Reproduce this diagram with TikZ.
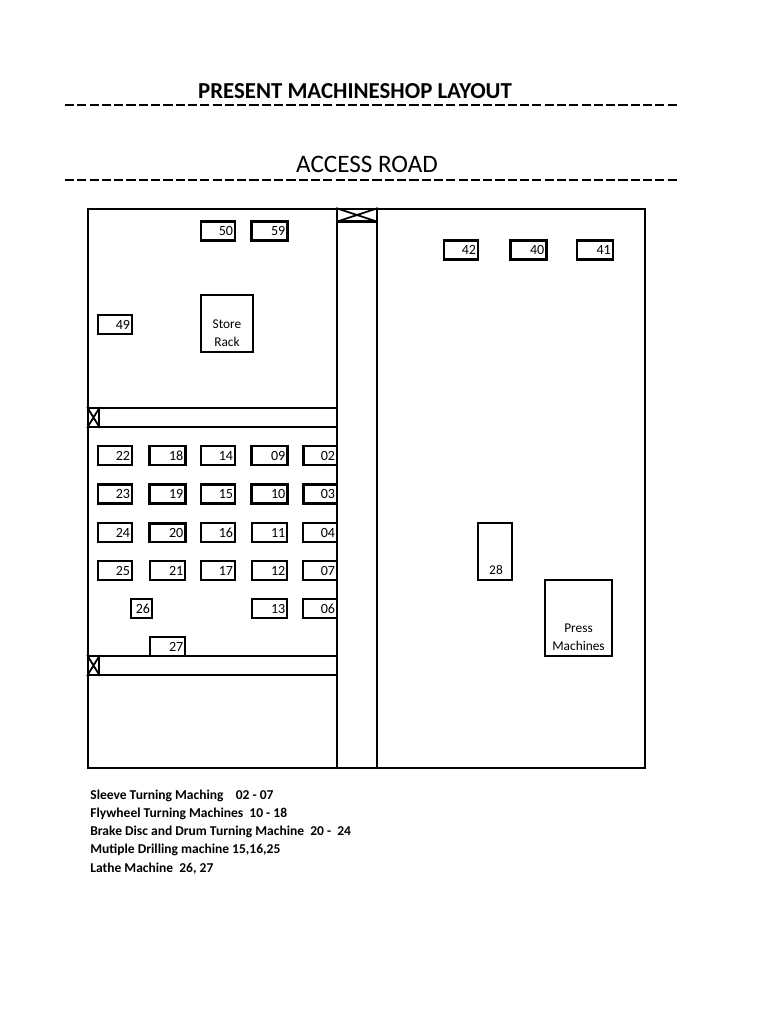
\documentclass[tikz,border=0pt]{standalone}
\usepackage{fontspec}
\setmainfont{Carlito}
\usetikzlibrary{positioning, calc}
\tikzset{
  machine/.style={draw, line width=1.2pt, inner xsep=.04cm, inner ysep=0pt, text width=.6cm, align=right, minimum height=.38cm, font=\fontsize{8}{8}\selectfont},
  machinebold/.style={machine, line width=1.7pt},
  wide/.style={text width=.63cm},
  tallbox/.style={draw, line width=1pt},
  boxlabel/.style={align=center, inner sep=0pt, font=\fontsize{7.6}{10.2}\selectfont},
  door/.style={draw, line width=1pt, inner sep=0pt},
  wall/.style={draw, line width=1.1pt},
}
\begin{document}
\begin{tikzpicture}[x=.02cm, y=-.02cm]
  \useasboundingbox (0,0) rectangle (768,1024);
  % headings
  \node[font=\bfseries\fontsize{13}{15}\selectfont] (title) at (355,91.5) {PRESENT MACHINESHOP LAYOUT};
  \node[font=\fontsize{14.3}{16}\selectfont] (road) at (367,164) {ACCESS ROAD};
  \coordinate (aux1) at (65,105);
  \coordinate (aux2) at (678,105);
  \coordinate (aux3) at (65,180);
  \coordinate (aux4) at (678,180);
  \draw[line width=1.7pt, dash pattern=on 5.2pt off 1.8pt] (aux1) -- (aux2);
  \draw[line width=1pt, dash pattern=on 5.2pt off 1.8pt] (aux3) -- (aux4);
  % walls
  \draw[wall] (88,209) rectangle (645,768);
  \draw[wall] (88,209) rectangle (337,408);
  \draw[wall] (88,427) rectangle (337,656);
  \draw[wall] (88,675) rectangle (337,768);
  \draw[wall] (337,209) -- (337,768);
  \draw[wall] (377,209) -- (377,768);
  % doors
  \node[door, minimum width=.8cm, minimum height=.24cm] (door1) at (357,215) {};
  \node[door, minimum width=.22cm, minimum height=.38cm] (door2) at (93.5,417.5) {};
  \node[door, minimum width=.22cm, minimum height=.38cm] (door3) at (93.5,665.5) {};
  \draw[line width=1pt] (door1.north west) -- (door1.south east) (door1.north east) -- (door1.south west);
  \draw[line width=1.8pt] (door1.south west) -- (door1.south east);
  \draw[line width=1pt] (door2.north west) -- (door2.south east) (door2.north east) -- (door2.south west);
  \draw[line width=1pt] (door3.north west) -- (door3.south east) (door3.north east) -- (door3.south west);
  % store room
  \node[machinebold] (m50) at (218,231) {50};
  \node[machinebold, wide] (m59) at (269.5,231) {59};
  \node[machine] (m49) at (115,324.5) {49};
  \node[tallbox, minimum width=1.04cm, minimum height=1.14cm] (rack) at (227,323.5) {};
  \node[boxlabel] (racklabel) at (227,333.5) {Store\\Rack};
  % machine rows
  \node[machine] (m22) at (115,455.5) {22};
  \node[machinebold, wide] (m18) at (167.5,455.5) {18};
  \node[machine] (m14) at (218,455.5) {14};
  \node[machinebold, wide] (m09) at (269.5,455.5) {09};
  \node[machinebold] (m02) at (320,455.5) {02};
  \node[machine] (m23) at (115,494) {23};
  \node[machinebold, wide] (m19) at (167.5,494) {19};
  \node[machine] (m15) at (218,494) {15};
  \node[machinebold, wide] (m10) at (269.5,494) {10};
  \node[machinebold] (m03) at (320,494) {03};
  \node[machine] (m24) at (115,532.5) {24};
  \node[machinebold, wide] (m20) at (167.5,532.5) {20};
  \node[machine] (m16) at (218,532.5) {16};
  \node[machine, wide] (m11) at (269.5,532.5) {11};
  \node[machine] (m04) at (320,532.5) {04};
  \node[machine] (m25) at (115,570.5) {25};
  \node[machine, wide] (m21) at (167.5,570.5) {21};
  \node[machine] (m17) at (218,570.5) {17};
  \node[machine, wide] (m12) at (269.5,570.5) {12};
  \node[machine] (m07) at (320,570.5) {07};
  \node[machine, text width=.34cm] (m26) at (141.5,608.5) {26};
  \node[machine, wide] (m13) at (269.5,608.5) {13};
  \node[machine] (m06) at (320,608.5) {06};
  \node[machine, wide] (m27) at (167.5,646.5) {27};
  % right hall
  \node[machine] (m42) at (461,250) {42};
  \node[machinebold, wide] (m40) at (528.5,250) {40};
  \node[machine, wide] (m41) at (595,250) {41};
  \node[tallbox, minimum width=.68cm, minimum height=1.14cm] (m28) at (495,551.5) {};
  \node[boxlabel] (m28label) at (496,570) {28};
  \node[tallbox, minimum width=1.34cm, minimum height=1.52cm] (press) at (578.5,618) {};
  \node[boxlabel] (presslabel) at (578.5,637) {Press\\Machines};
  % legend
  \node[anchor=north west, inner sep=0pt, align=left, font=\fontsize{7.7}{10.35}\selectfont\bfseries] (legend) at (90,789.5) {Sleeve Turning Maching\ \ \ \ 02 - 07\\Flywheel Turning Machines\ \ 10 - 18\\Brake Disc and Drum Turning Machine\ \ 20 -\ \ 24\\Mutiple Drilling machine 15,16,25\\Lathe Machine\ \ 26, 27};
\end{tikzpicture}
\end{document}
